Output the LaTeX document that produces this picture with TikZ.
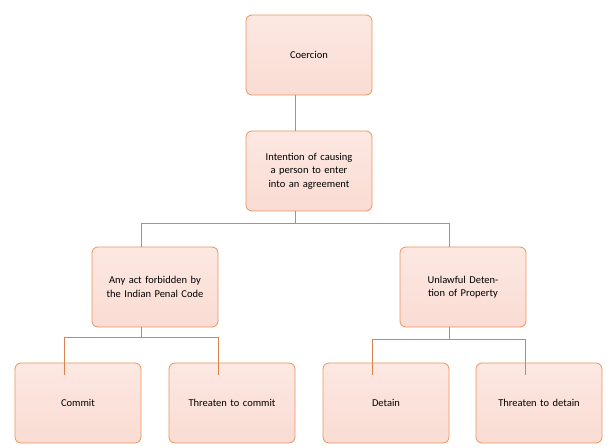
\documentclass[tikz,border=0pt]{standalone}
\usepackage{fontspec}
\setmainfont{Carlito}
\usetikzlibrary{positioning}
\definecolor{boxfill}{HTML}{FADCD3}
\definecolor{boxtop}{HTML}{FCE8E2}
\definecolor{boxline}{HTML}{E8955E}
\definecolor{linkcol}{HTML}{D9834E}
\begin{document}
\begin{tikzpicture}[x=1pt,y=-1pt]
 \tikzstyle{box} = [draw=boxline,top color=boxtop,bottom color=boxfill,rounded corners=6pt,
   minimum width=126pt,minimum height=80pt,text width=112pt,align=center,
   font=\fontsize{10.5}{13.5}\selectfont,line width=0.8pt]
 \tikzstyle{link} = [draw=linkcol,line width=1pt]
 \useasboundingbox (0,0) rectangle (610,447);

% Boxes
 \node[box] (coercion) at (309,55) {Coercion};
 \node[box] (intent) at (309,171) {Intention of causing a person to enter into an agreement};
 \node[box] (act) at (155,287) {Any act forbidden by the Indian Penal Code};
 \node[box] (unlawful) at (463,287) {Unlawful Detention of Property};
 \node[box] (commit) at (78,403) {Commit};
 \node[box] (thcommit) at (232,403) {Threaten to commit};
 \node[box] (detain) at (386,403) {Detain};
 \node[box] (thdetain) at (539,403) {Threaten to detain};

% Connectors
 \draw[link] ([xshift=-14pt]coercion.south) -- ([xshift=-14pt]intent.north);
 \draw[link] ([xshift=-14pt]intent.south) -- ++(0,12) -| ([xshift=-14pt]act.north);
 \draw[link] ([xshift=-14pt]intent.south) -- ++(0,12) -| ([xshift=-14pt]unlawful.north);
 \draw[link] ([xshift=-14pt]act.south) -- ++(0,10) -| ([xshift=-14pt,yshift=-12pt]commit.north);
 \draw[link] ([xshift=-14pt]act.south) -- ++(0,10) -| ([xshift=-14pt,yshift=-12pt]thcommit.north);
 \draw[link] ([xshift=-14pt]unlawful.south) -- ++(0,12) -| ([xshift=-14pt,yshift=-12pt]detain.north);
 \draw[link] ([xshift=-14pt]unlawful.south) -- ++(0,12) -| ([xshift=-14pt,yshift=-12pt]thdetain.north);
\end{tikzpicture}
\end{document}
